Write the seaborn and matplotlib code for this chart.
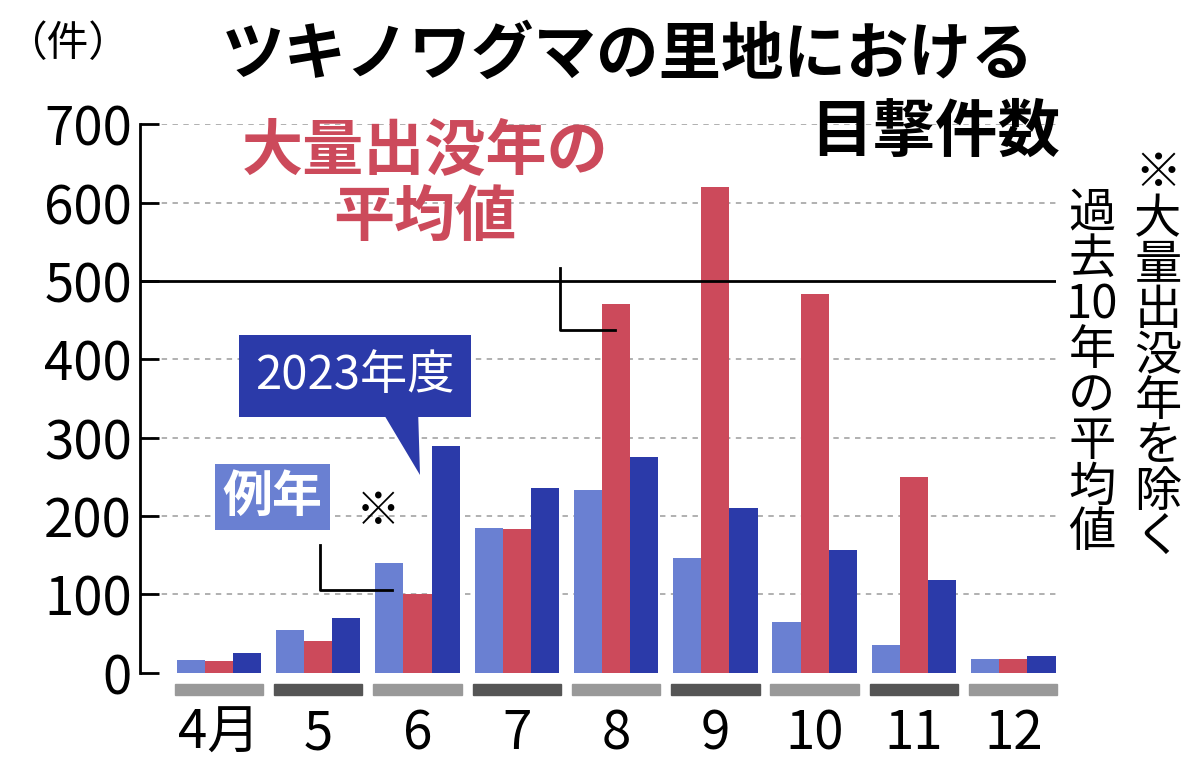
import matplotlib
matplotlib.use("Agg")
import matplotlib.pyplot as plt
from matplotlib.lines import Line2D
from matplotlib.patches import Polygon
import seaborn as sns
import pandas as pd

plt.rcParams["font.family"] = "Noto Sans CJK JP"

months = ["4月", "5", "6", "7", "8", "9", "10", "11", "12"]
normal = [17, 55, 140, 185, 233, 146, 65, 35, 18]
heavy = [15, 40, 100, 183, 470, 620, 484, 250, 18]
fy2023 = [25, 70, 290, 236, 276, 210, 157, 118, 22]
series = ["例年", "大量出没年", "2023年度"]
colors = ["#6a80d2", "#cc4a5b", "#2b3aa9"]

rows = []
for name, vals in zip(series, [normal, heavy, fy2023]):
    for m, v in zip(months, vals):
        rows.append({"month": m, "series": name, "count": v})
df = pd.DataFrame(rows)

fig = plt.figure(figsize=(12, 7.62), dpi=100)
ax = fig.add_axes([0.117, 0.117, 0.763, 0.72])
sns.barplot(data=df, x="month", y="count", hue="series", palette=colors,
            width=0.85, ax=ax, legend=False, saturation=1)
ax.set_xlim(-0.79, 8.43)
ax.set_ylim(0, 700)
ax.set_yticks(range(0, 701, 100))
ax.tick_params(axis="y", labelsize=38, length=14, width=2, direction="in", pad=6)
ax.tick_params(axis="x", length=0, labelsize=38, pad=24)
for s in ["top", "right", "bottom"]:
    ax.spines[s].set_visible(False)
ax.spines["left"].set_linewidth(2)
ax.set_xlabel("")
ax.set_ylabel("")
for y in range(100, 701, 100):
    if y != 500:
        ax.axhline(y, color="#aaaaaa", ls=(0, (3, 3)), lw=1.3, zorder=0)
ax.axhline(500, color="black", lw=2, zorder=3)

# month bars under axis
for i in range(len(months)):
    ax.add_patch(plt.Rectangle((i - 0.445, -28), 0.89, 14, color="#999999" if i % 2 == 0 else "#555555",
                               clip_on=False))

def P(x, y):
    return x / 1200, 1 - y / 762

fig.text(*P(5, 45), "（件）", fontsize=30, va="center")
fig.text(*P(628, 55), "ツキノワグマの里地における", fontsize=45, weight="bold", ha="center", va="center")
fig.text(*P(935, 132), "目撃件数", fontsize=45, weight="bold", ha="center", va="center")
fig.text(*P(425, 185), "大量出没年の\n平均値", fontsize=44, weight="bold", color="#cc4a5b",
         ha="center", va="center", linespacing=1.1)
fig.add_artist(Line2D([560/1200, 560/1200, 615/1200], [1-268/762, 1-330/762, 1-330/762], color="black", lw=2))
fig.text(*P(355, 376), "2023年度", fontsize=34, color="white", ha="center", va="center",
         bbox=dict(boxstyle="square,pad=0.35", fc="#2b3aa9", ec="none"))
fig.add_artist(Polygon([P(380, 408), P(420, 475), P(418, 408)], closed=True, fc="#2b3aa9", ec="none"))
fig.text(*P(272, 497), "例年", fontsize=36, weight="bold", color="white", ha="center", va="center",
         bbox=dict(boxstyle="square,pad=0.15", fc="#6a80d2", ec="none"))
fig.text(*P(378, 512), "※", fontsize=32, ha="center", va="center")
fig.add_artist(Line2D([320/1200, 320/1200, 392/1200], [1-545/762, 1-590/762, 1-590/762], color="black", lw=2))
fig.text(*P(1158, 150), "\n".join("※大量出没年を除く"), fontsize=34, ha="center", va="top", linespacing=0.92)
fig.text(*P(1092, 190), "\n".join("過去") + "\n10\n" + "\n".join("年の平均値"), fontsize=34,
         ha="center", va="top", linespacing=0.92)

fig.savefig("out.png", dpi=100)
